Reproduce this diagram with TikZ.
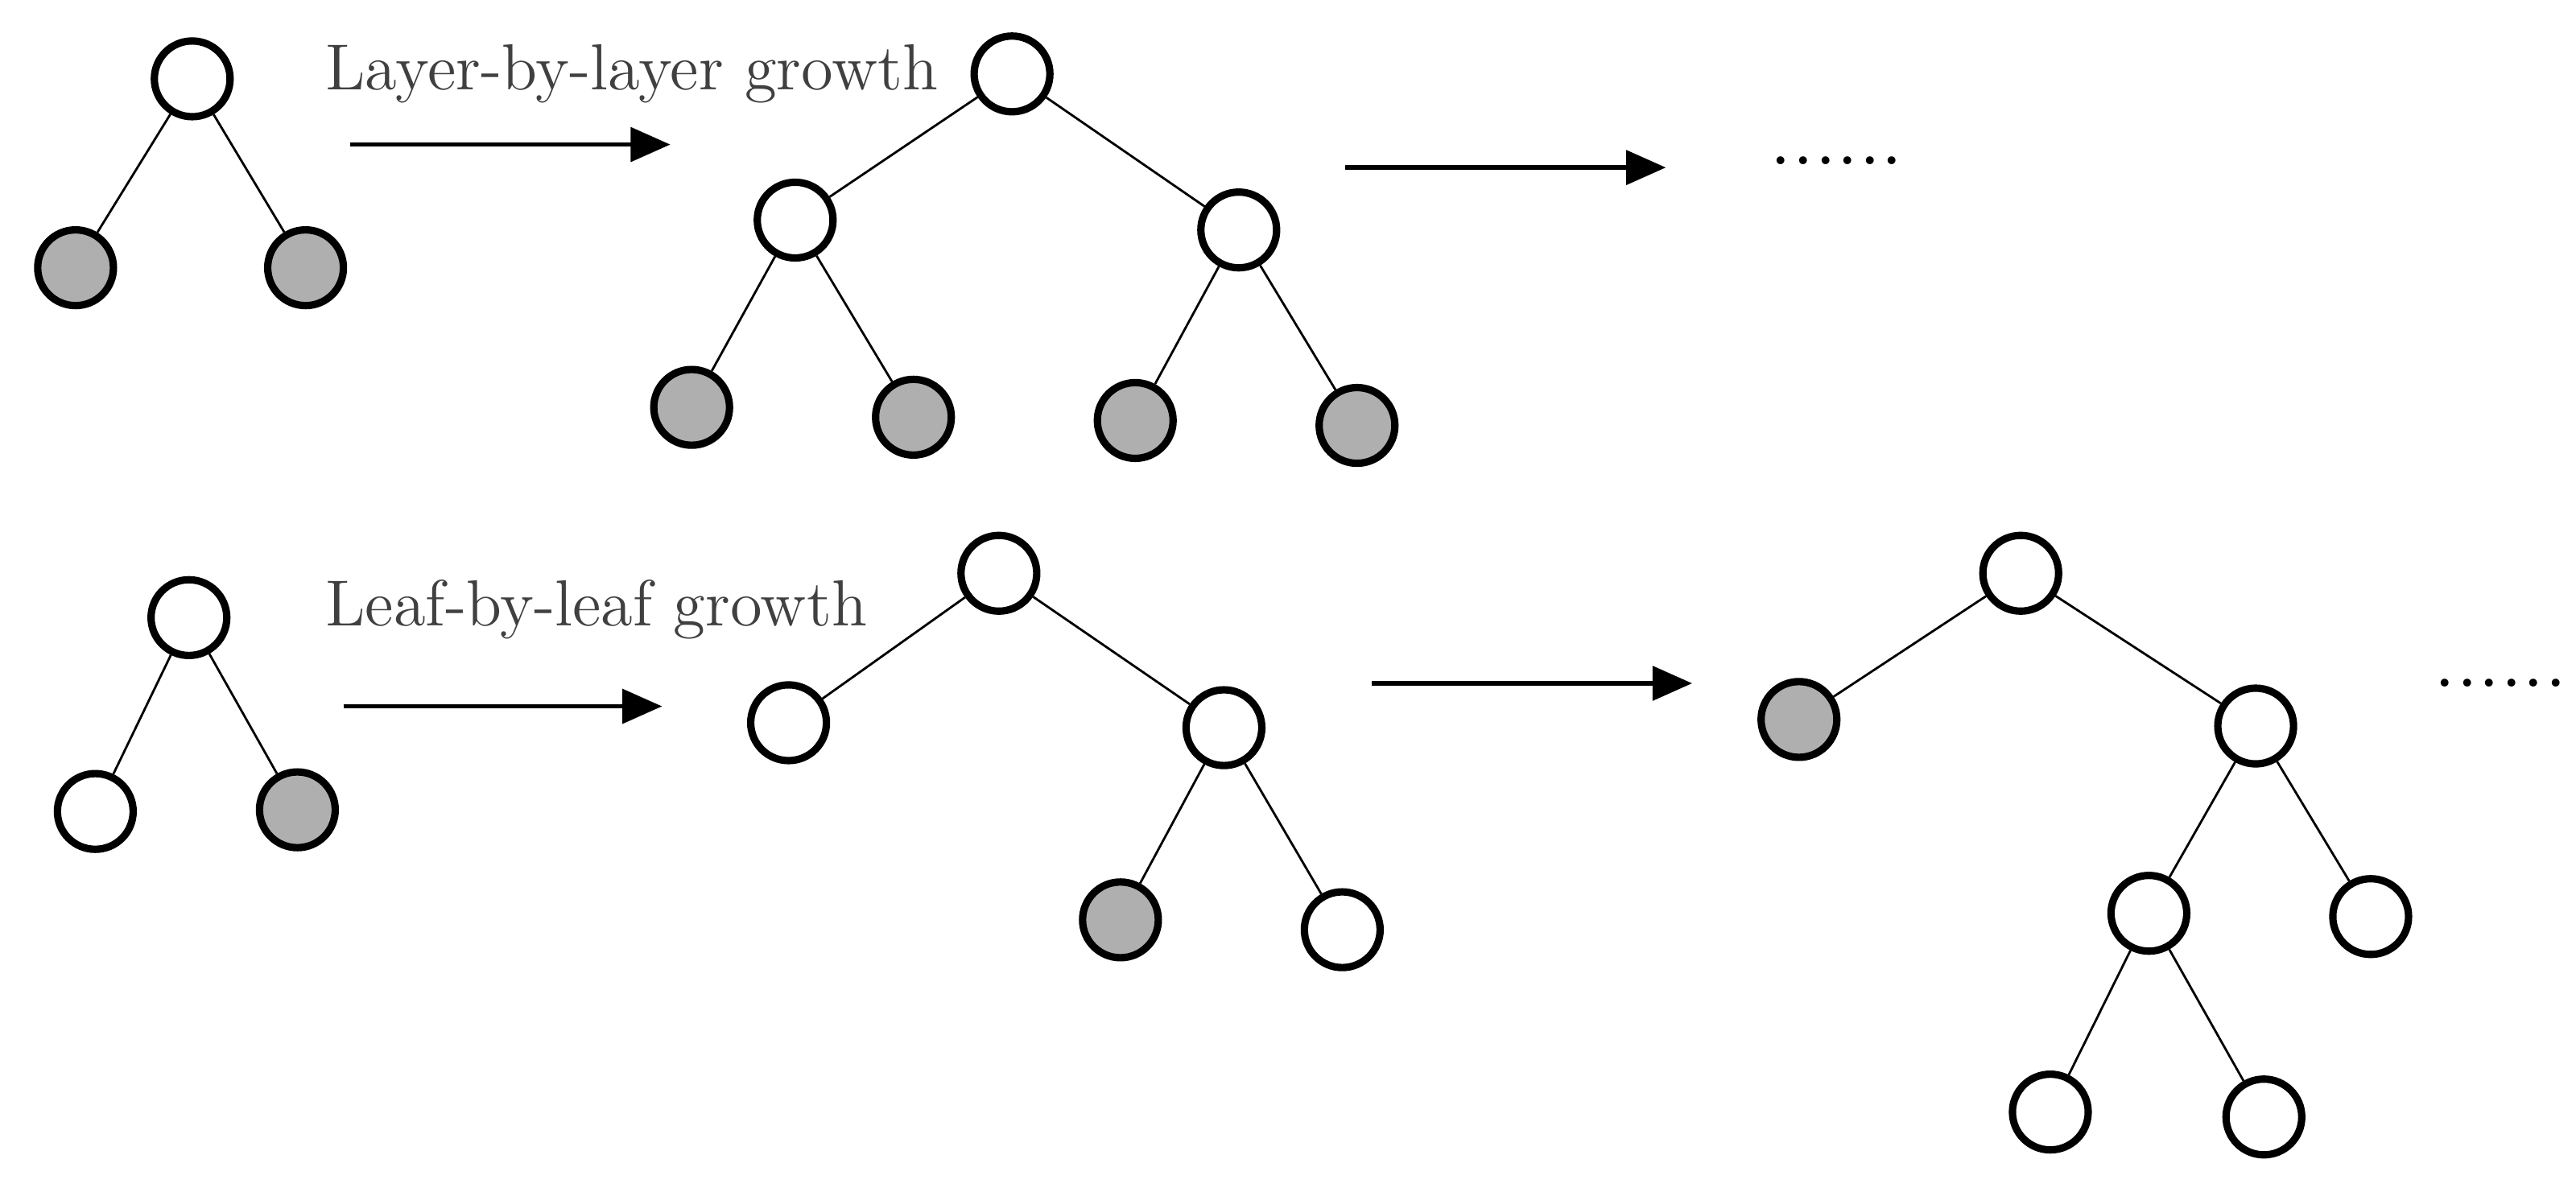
\documentclass[tikz,border=0pt]{standalone}
\usetikzlibrary{arrows.meta}
\begin{document}
\begin{tikzpicture}[x={(0.0102cm,0)},y={(0,-0.0102cm)},
	nd/.style={circle,draw,line width=1.3pt,minimum size=0.47cm,inner sep=0pt,fill=white},
	lf/.style={nd,fill=gray!95!black!60},
	edge/.style={thin},
	step arrow/.style={thick,-{Triangle[length=7pt,width=6pt]}}]
	\useasboundingbox (0,0) rectangle (1568,723);
	% layer-by-layer
	\node[nd] (a) at (117,48) {};
	\node[lf] (a1) at (46,163) {};
	\node[lf] (a2) at (186,163) {};
	\draw[edge] (a)--(a1) (a)--(a2);
	\coordinate (p1) at (213,88); \coordinate (q1) at (408,88);
	\draw[step arrow] (p1)--(q1);
	\node[anchor=west,font=\fontsize{11.5}{13}\selectfont,text=black!75] (t1) at (186,45) {Layer-by-layer growth};
	\node[nd] (b) at (616,45) {};
	\node[nd] (b1) at (484,134) {};
	\node[nd] (b2) at (754,140) {};
	\node[lf] (b11) at (421,248) {};
	\node[lf] (b12) at (556,254) {};
	\node[lf] (b21) at (691,256) {};
	\node[lf] (b22) at (826,259) {};
	\draw[edge] (b)--(b1) (b)--(b2) (b1)--(b11) (b1)--(b12) (b2)--(b21) (b2)--(b22);
	\coordinate (p2) at (819,102); \coordinate (q2) at (1014,102);
	\draw[step arrow] (p2)--(q2);
	\node[font=\Large] (d1) at (1118,98) {......};
	% leaf-by-leaf
	\node[nd] (c) at (115,376) {};
	\node[nd] (c1) at (58,494) {};
	\node[lf] (c2) at (181,493) {};
	\draw[edge] (c)--(c1) (c)--(c2);
	\coordinate (p3) at (209,430); \coordinate (q3) at (403,430);
	\draw[step arrow] (p3)--(q3);
	\node[anchor=west,font=\fontsize{11.5}{13}\selectfont,text=black!75] (t2) at (186,371) {Leaf-by-leaf growth};
	\node[nd] (e) at (608,349) {};
	\node[nd] (e1) at (480,440) {};
	\node[nd] (e2) at (745,443) {};
	\node[lf] (e21) at (682,560) {};
	\node[nd] (e22) at (817,566) {};
	\draw[edge] (e)--(e1) (e)--(e2) (e2)--(e21) (e2)--(e22);
	\coordinate (p4) at (835,416); \coordinate (q4) at (1030,416);
	\draw[step arrow] (p4)--(q4);
	\node[nd] (f) at (1230,349) {};
	\node[lf] (f1) at (1095,438) {};
	\node[nd] (f2) at (1373,442) {};
	\node[nd] (f21) at (1308,556) {};
	\node[nd] (f22) at (1443,558) {};
	\node[nd] (f211) at (1248,677) {};
	\node[nd] (f212) at (1378,680) {};
	\draw[edge] (f)--(f1) (f)--(f2) (f2)--(f21) (f2)--(f22) (f21)--(f211) (f21)--(f212);
	\node[font=\Large] (d2) at (1522,416) {......};
\end{tikzpicture}
\end{document}
